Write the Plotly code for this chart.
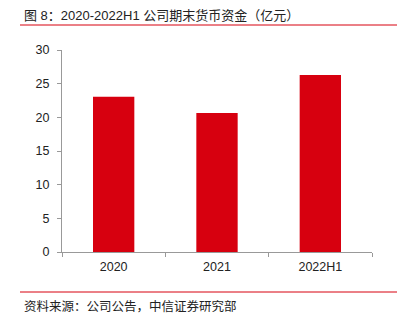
import plotly.graph_objects as go

categories = ["2020", "2021", "2022H1"]
values = [23.05, 20.65, 26.3]
y_ticks = [0, 5, 10, 15, 20, 25, 30]

title_text = "图 8：2020-2022H1 公司期末货币资金（亿元）"
source_text = "资料来源：公司公告，中信证券研究部"

W, H = 407, 323
L, R, T, B = 62, 35, 50, 71
pw = W - L - R
ph = H - T - B

def px_x(px):
    return (px - L) / pw

def px_y(py):
    return (H - B - py) / ph

font_family = "Liberation Sans, Arial, Noto Sans CJK SC, sans-serif"

fig = go.Figure()
fig.add_trace(go.Bar(
    x=categories, y=values,
    marker=dict(color="#d7000f", line=dict(width=0)),
    width=0.4,
))

fig.update_layout(
    width=W, height=H,
    margin=dict(l=L, r=R, t=T, b=B, pad=0),
    paper_bgcolor="white", plot_bgcolor="white",
    showlegend=False,
    font=dict(family=font_family, size=12, color="#222222"),
    xaxis=dict(
        showgrid=False, showline=True, linecolor="#999999", linewidth=1,
        ticks="outside", tickson="boundaries", ticklen=4, tickcolor="#999999",
        tickfont=dict(size=12.5, color="#222222"), ticklabelstandoff=3,
    ),
    yaxis=dict(
        range=[0, 30], tickvals=y_ticks, showgrid=False, zeroline=False,
        showline=True, linecolor="#999999", linewidth=1,
        ticks="outside", ticklen=4, tickcolor="#999999",
        tickfont=dict(size=12.5, color="#222222"), ticklabelstandoff=5,
    ),
    annotations=[
        dict(text=title_text, xref="paper", yref="paper",
             x=px_x(22), y=px_y(15), xanchor="left", yanchor="middle",
             showarrow=False, font=dict(size=13, color="#222222", family=font_family)),
        dict(text=source_text, xref="paper", yref="paper",
             x=px_x(22), y=px_y(306), xanchor="left", yanchor="middle",
             showarrow=False, font=dict(size=12.5, color="#222222", family=font_family)),
    ],
    shapes=[
        dict(type="line", xref="paper", yref="paper",
             x0=px_x(20), x1=px_x(397), y0=px_y(25), y1=px_y(25),
             line=dict(color="#d7000f", width=1)),
        dict(type="line", xref="paper", yref="paper",
             x0=px_x(20), x1=px_x(397), y0=px_y(292), y1=px_y(292),
             line=dict(color="#d7000f", width=1)),
    ],
)

fig.write_html("out.html")
